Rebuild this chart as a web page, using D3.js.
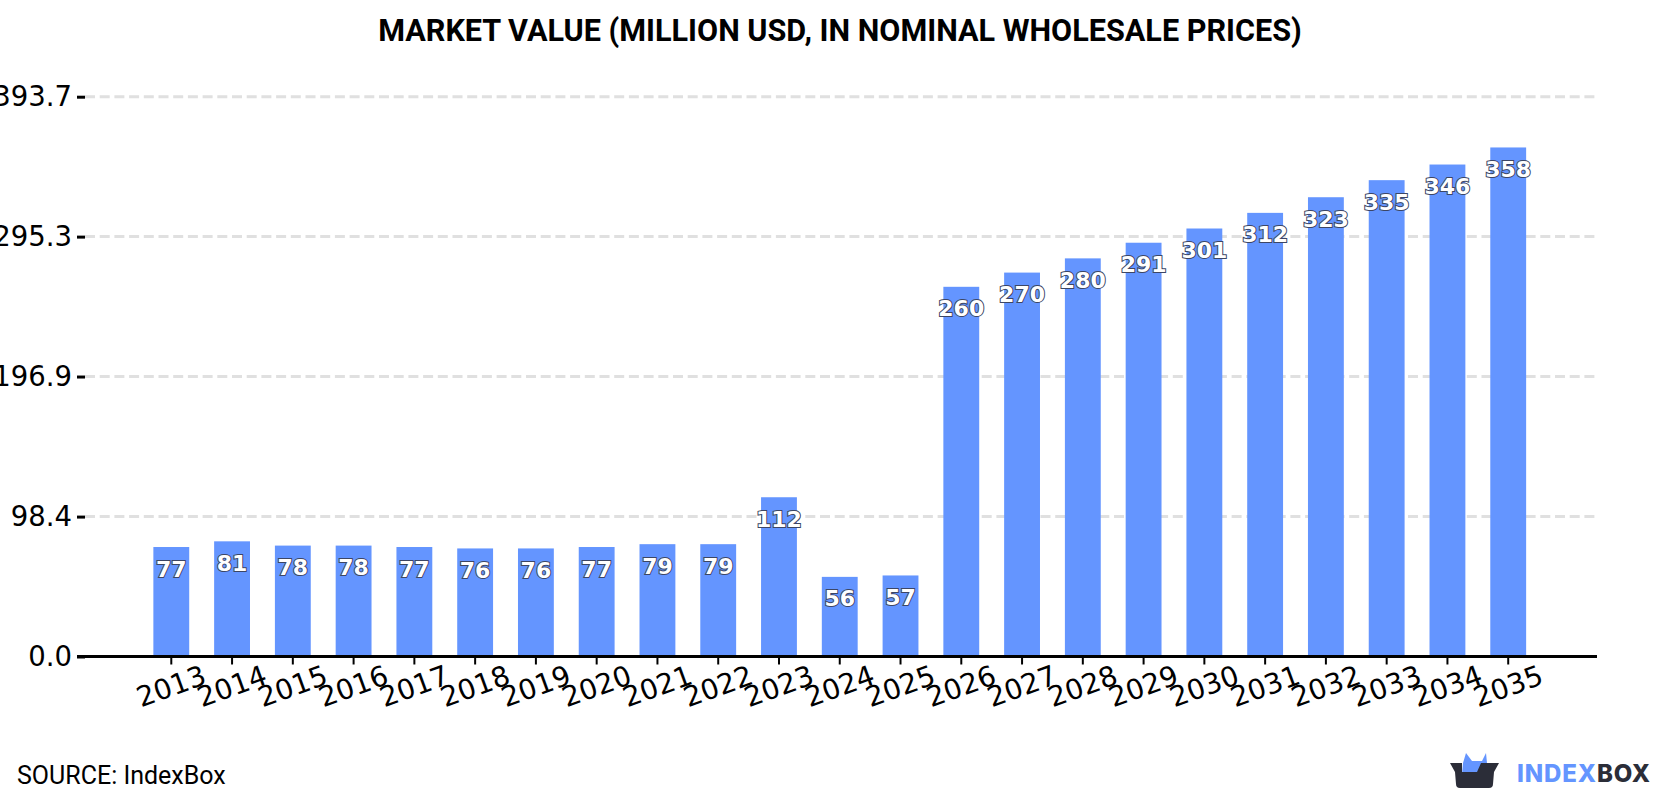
<!DOCTYPE html>
<html>
<head>
<meta charset="utf-8">
<script src="https://cdn.jsdelivr.net/npm/d3@7"></script>
<style>
  html, body { margin: 0; padding: 0; background: #fff; }
  svg { display: block; }
</style>
</head>
<body>
<svg id="chart" width="1680" height="800"></svg>
<script>
// Market value by year, million USD
const years = ["2013","2014","2015","2016","2017","2018","2019","2020","2021","2022","2023","2024","2025","2026","2027","2028","2029","2030","2031","2032","2033","2034","2035"];
const marketValues = [77,81,78,78,77,76,76,77,79,79,112,56,57,260,270,280,291,301,312,323,335,346,358];
const yTicks = [0, 98.4, 196.9, 295.3, 393.7];

const chartTitle = "MARKET VALUE (MILLION USD, IN NOMINAL WHOLESALE PRICES)";
const sourceText = "SOURCE: IndexBox";
const barColor = "#6495ff";
const logoDark = "#2b2d38";

const svg = d3.select("#chart");
const plot = { left: 85, right: 1597, top: 96.7, bottom: 656.5 };

const x = d3.scaleBand().domain(years).range([plot.left, plot.right - 2.5]).paddingInner(0.41).paddingOuter(1.125);
const y = d3.scaleLinear().domain([0, 393.7]).range([plot.bottom, plot.top]);

// Title
svg.append("text")
  .attr("x", 840).attr("y", 41)
  .attr("text-anchor", "middle")
  .style("font", "700 30.6px Roboto, sans-serif")
  .attr("fill", "#000")
  .text(chartTitle);

// Dashed horizontal grid, skipping the baseline
svg.append("g").selectAll("line")
  .data(yTicks.filter(d => d > 0))
  .join("line")
  .attr("x1", plot.left).attr("x2", plot.right)
  .attr("y1", d => y(d)).attr("y2", d => y(d))
  .attr("stroke", "#e0e0e0")
  .attr("stroke-width", 3)
  .attr("stroke-dasharray", "10 4.7");

// Bars
svg.append("g").selectAll("rect")
  .data(marketValues)
  .join("rect")
  .attr("x", (d, i) => x(years[i]))
  .attr("width", x.bandwidth())
  .attr("y", d => y(d))
  .attr("height", d => y(0) - y(d))
  .attr("fill", barColor);

// Y axis: short ticks and labels, no spine
const yAxis = d3.axisLeft(y).tickValues(yTicks).tickFormat(d3.format(".1f")).tickSize(8).tickPadding(5);
const yG = svg.append("g").attr("transform", `translate(${plot.left},0)`).call(yAxis);
yG.select(".domain").remove();
yG.selectAll("line").attr("stroke", "#000").attr("stroke-width", 3);
yG.selectAll("text")
  .attr("fill", "#000")
  .style("font", "27.5px 'DejaVu Sans', sans-serif");

// X axis: heavy baseline with slanted year labels
const xAxis = d3.axisBottom(x).tickSize(8).tickSizeOuter(0);
const xG = svg.append("g").attr("transform", `translate(0,${plot.bottom})`).call(xAxis);
xG.select(".domain").remove();
xG.selectAll("line").attr("stroke", "#000").attr("stroke-width", 2);
xG.selectAll("text")
  .attr("fill", "#000")
  .attr("dy", null)
  .attr("text-anchor", "middle")
  .attr("dominant-baseline", "central")
  .attr("transform", "translate(0,30) rotate(-20)")
  .attr("y", 0)
  .style("font", "28px 'DejaVu Sans', sans-serif");
svg.append("line")
  .attr("x1", 77).attr("x2", plot.right)
  .attr("y1", plot.bottom).attr("y2", plot.bottom)
  .attr("stroke", "#000").attr("stroke-width", 3);

// Value labels inside the bars
svg.append("g").selectAll("text")
  .data(marketValues)
  .join("text")
  .attr("x", (d, i) => x(years[i]) + x.bandwidth() / 2)
  .attr("y", d => y(d) + 29.5)
  .attr("text-anchor", "middle")
  .attr("fill", "#fff")
  .attr("stroke", "#3c4664")
  .attr("stroke-width", 2)
  .attr("paint-order", "stroke")
  .style("font", "700 22px 'DejaVu Sans', sans-serif")
  .text(d => d);

// Source note
svg.append("text")
  .attr("x", 17).attr("y", 784)
  .style("font", "400 25px Roboto, sans-serif")
  .attr("fill", "#000")
  .text(sourceText);

// Brand mark: open box with a blue crown, then the wordmark
const logo = svg.append("g");
logo.append("path")
  .attr("d", "M1462 774 L1463 763 L1466 753 L1472 761 L1482 761 L1486 753 L1487 763 L1486 773 Z")
  .attr("fill", barColor);
logo.append("path")
  .attr("d", "M1450 763 L1462 763 L1462 772 L1477 772 L1481 763 L1499 763 L1494 772 L1493 784 Q1493 788 1489 788 L1460 788 Q1456 788 1456 784 L1455 772 Z")
  .attr("fill", logoDark);
const word = logo.append("text")
  .attr("x", 1517).attr("y", 782)
  .attr("textLength", 133)
  .style("font", "800 24px Inter, Roboto, sans-serif");
word.append("tspan").attr("fill", barColor).text("INDEX");
word.append("tspan").attr("fill", logoDark).text("BOX");
</script>
</body>
</html>
